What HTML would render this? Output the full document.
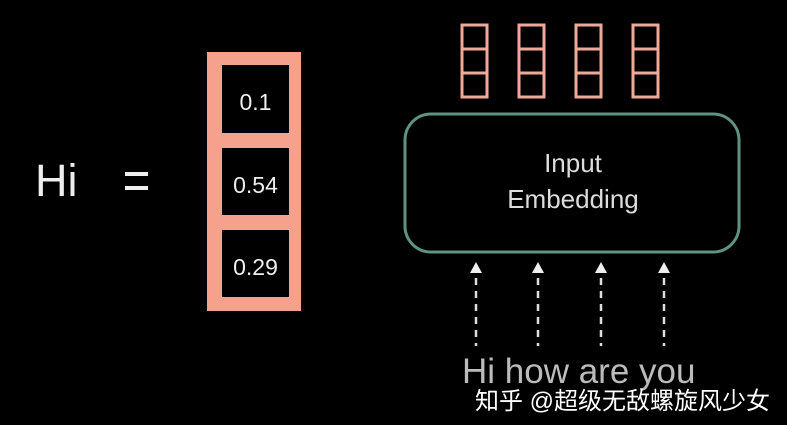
<!DOCTYPE html>
<html><head><meta charset="utf-8"><style>
body{margin:0;background:#000;width:787px;height:425px;overflow:hidden;position:relative;font-family:"Liberation Sans","Noto Sans CJK SC",sans-serif}
.t{position:absolute;white-space:nowrap}
</style></head><body>
<svg width="787" height="425" style="position:absolute;left:0;top:0">
<rect x="207" y="52" width="94" height="259" fill="#f5a18d"/>
<rect x="222" y="65" width="67" height="68" fill="#000"/>
<rect x="222" y="148" width="67" height="67" fill="#000"/>
<rect x="222" y="230" width="67" height="67" fill="#000"/>
<g fill="none" stroke="#f0a898" stroke-width="3">
<rect x="462" y="25" width="25" height="72"/><line x1="462" y1="49" x2="487" y2="49"/><line x1="462" y1="73" x2="487" y2="73"/>
<rect x="519" y="25" width="25" height="72"/><line x1="519" y1="49" x2="544" y2="49"/><line x1="519" y1="73" x2="544" y2="73"/>
<rect x="576" y="25" width="25" height="72"/><line x1="576" y1="49" x2="601" y2="49"/><line x1="576" y1="73" x2="601" y2="73"/>
<rect x="633" y="25" width="25" height="72"/><line x1="633" y1="49" x2="658" y2="49"/><line x1="633" y1="73" x2="658" y2="73"/>
</g>
<rect x="405" y="114" width="334" height="138" rx="26" fill="none" stroke="#5e9282" stroke-width="3"/>
<g stroke="#ddd" stroke-width="2.5" stroke-dasharray="7 6">
<line x1="476" y1="278" x2="476" y2="346"/><line x1="538" y1="278" x2="538" y2="346"/><line x1="601" y1="278" x2="601" y2="346"/><line x1="664" y1="278" x2="664" y2="346"/>
</g>
<g fill="#eee">
<polygon points="476,262 470,273 482,273"/><polygon points="538,262 532,273 544,273"/><polygon points="601,262 595,273 607,273"/><polygon points="664,262 658,273 670,273"/>
</g>
<rect x="125" y="172" width="23" height="4" fill="#eee"/>
<rect x="125" y="186" width="23" height="4" fill="#eee"/>
</svg>
<div class="t" style="left:35px;top:155px;font-size:45px;color:#eee">Hi</div>
<div class="t" style="left:222px;top:89px;width:67px;text-align:center;font-size:23px;color:#eee">0.1</div>
<div class="t" style="left:222px;top:172px;width:67px;text-align:center;font-size:23px;color:#eee">0.54</div>
<div class="t" style="left:222px;top:254px;width:67px;text-align:center;font-size:23px;color:#eee">0.29</div>
<div class="t" style="left:405px;top:145px;width:336px;text-align:center;font-size:26px;line-height:36px;color:#ddd">Input<br>Embedding</div>
<div class="t" style="left:462px;top:352px;font-size:35px;color:#bbb">Hi how are you</div>
<div class="t" style="left:475px;top:381px;font-size:24px;color:#fff">知乎 @超级无敌螺旋风少女</div>
</body></html>
